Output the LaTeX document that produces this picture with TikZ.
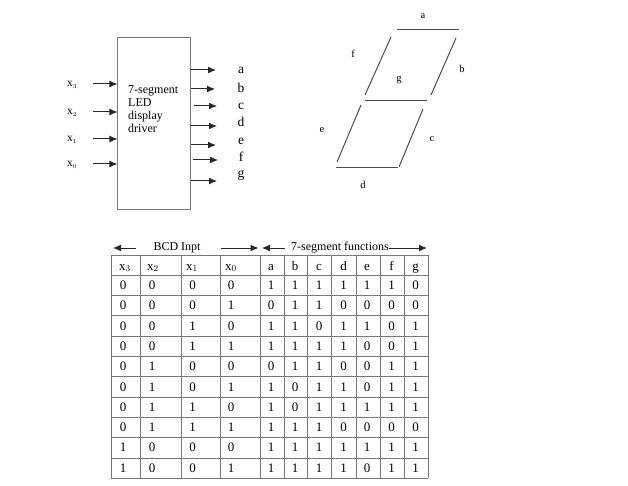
\documentclass[tikz,border=0pt]{standalone}
\usepackage{fontspec}
\setmainfont{Liberation Serif}
\usetikzlibrary{arrows.meta}
\definecolor{boxgray}{RGB}{120, 120, 120}

% Helper macro for one table row
% #1: Row index, #2: Cell values
\newcommand{\addRow}[2]{
    \foreach \v [count=\c from 0] in {#2} {
        \pgfmathsetmacro{\colx}{{123,152,192.5,231,271,295,319,343.5,367,391.5,415.5}[\c]}
        \node[cell] (cell-#1-\c) at (\colx, {289.5 + 20.3*#1}) {\v};
    }
}

\begin{document}
\begin{tikzpicture}[
    x=1pt, y=-1pt,
    % Node Styles
    blockbox/.style={draw=boxgray, line width=1pt, fill=white, inner sep=0pt, minimum width=72.7pt, minimum height=172pt},
    blocktext/.style={anchor=north west, align=left, inner sep=0pt, font=\fontsize{12}{13.3}\selectfont},
    pinlabel/.style={inner sep=0pt, font=\fontsize{11.5}{12}\selectfont},
    outlabel/.style={anchor=base, inner sep=0pt, font=\fontsize{13.5}{14}\selectfont},
    seglabel/.style={anchor=base, inner sep=0pt, font=\fontsize{10.5}{11}\selectfont},
    cell/.style={anchor=base, inner sep=0pt, font=\fontsize{13}{13}\selectfont},
    headtext/.style={anchor=base, inner sep=0pt, fill=white, font=\fontsize{12}{13}\selectfont},
    % Edge Styles
    sigarrow/.style={-{Latex[length=8pt, width=7pt]}, line width=1pt, color=black!85},
    segment/.style={line width=1pt, color=black!70},
    gridline/.style={line width=1pt, color=boxgray}
]
\useasboundingbox (0,0) rectangle (628,486);

% Driver block
\node[blockbox] (driver) at (154.3,124) {};
\node[blocktext] (drivertext) at (128,85) {7-segment\\LED\\display\\driver};

% Inputs
\foreach \name/\sub/\y in {x3/3/84, x2/2/112, x1/1/139, x0/0/164} {
    \coordinate (start-\name) at (93,\y);
    \node[pinlabel] (label-\name) at (72,{\y+1}) {x$_{\scriptscriptstyle\sub}$};
    \draw[sigarrow] (start-\name) -- (start-\name -| driver.west);
}

% Outputs
\foreach \name/\y/\a/\b/\ty in {a/70/191/216/74, b/89/191/215/93, c/106/193.5/217/110, d/126/191/217/127, e/145/191/216/145, f/160/193/218/162, g/181/191/217/178} {
    \coordinate (out-\name) at (\a,\y);
    \coordinate (end-\name) at (\b,\y);
    \node[outlabel] (label-\name) at (241,\ty) {\name};
    \draw[sigarrow] (out-\name) -- (end-\name);
}

% Display segments
\draw[segment] (397,30) -- (459,30);
\draw[segment] (456,38) -- (431,95);
\draw[segment] (423,109) -- (399,167);
\draw[segment] (336,168) -- (398,168);
\draw[segment] (361,105) -- (337,162);
\draw[segment] (391,37) -- (365,95);
\draw[segment] (365,101) -- (427,101);

% Segment Labels
\node[seglabel] (seg-a) at (423,18.5) {a};
\node[seglabel] (seg-b) at (462,72.5) {b};
\node[seglabel] (seg-c) at (432,141.5) {c};
\node[seglabel] (seg-d) at (363,188.5) {d};
\node[seglabel] (seg-e) at (322,132.5) {e};
\node[seglabel] (seg-f) at (353,57.5) {f};
\node[seglabel] (seg-g) at (399,81.5) {g};

% Table Header Arrows
\coordinate (bcd-left) at (113,248);
\coordinate (bcd-right) at (258.5,248);
\draw[sigarrow] (136,248) -- (bcd-left);
\draw[sigarrow] (221,248) -- (bcd-right);
\coordinate (fn-left) at (262,248);
\coordinate (fn-right) at (427,248);
\draw[sigarrow] (285,248) -- (fn-left);
\draw[sigarrow] (340,248) -- (fn-right);
\node[headtext] (bcd) at (177,250.5) {BCD Inpt};
\node[headtext] (fn) at (340,250.5) {7-segment functions};

% Table Grid
\foreach \x in {111,140.7,181,220.3,260.3,284,307.3,331.7,356,380,404.3,428.3} {
    \draw[gridline] (\x,255) -- (\x,478.3);
}
\foreach \i in {0,...,11} {
    \draw[gridline] (111,{255 + 20.3*\i}) -- (428.3,{255 + 20.3*\i});
}

% Table Head
\foreach \t/\x in {x$_3$/125, x$_2$/153, x$_1$/192, x$_0$/231, a/271, b/295, c/319, d/343.5, e/367, f/391.5, g/415.5} {
    \node[cell] (head-\x) at (\x,270) {\t};
}

% Table Rows
\addRow{0}{0,0,0,0,1,1,1,1,1,1,0}
\addRow{1}{0,0,0,1,0,1,1,0,0,0,0}
\addRow{2}{0,0,1,0,1,1,0,1,1,0,1}
\addRow{3}{0,0,1,1,1,1,1,1,0,0,1}
\addRow{4}{0,1,0,0,0,1,1,0,0,1,1}
\addRow{5}{0,1,0,1,1,0,1,1,0,1,1}
\addRow{6}{0,1,1,0,1,0,1,1,1,1,1}
\addRow{7}{0,1,1,1,1,1,1,0,0,0,0}
\addRow{8}{1,0,0,0,1,1,1,1,1,1,1}
\addRow{9}{1,0,0,1,1,1,1,1,0,1,1}

\end{tikzpicture}
\end{document}
